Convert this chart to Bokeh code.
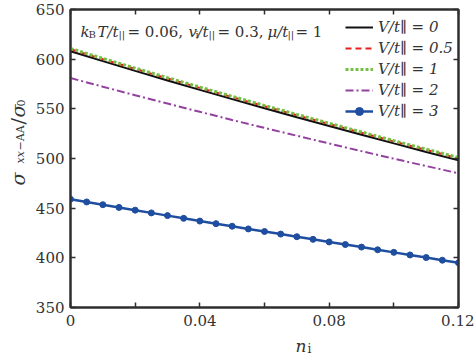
import numpy as np
from bokeh.plotting import figure
from bokeh.layouts import row, column
from bokeh.models import (Range1d, LinearAxis, FixedTicker, Label, Legend,
                          LegendItem, CustomJSTickFormatter)
from bokeh.embed import file_html
from bokeh.resources import INLINE

# ---------------- data ----------------
n_coarse = [0.00, 0.01, 0.02, 0.03, 0.04, 0.05, 0.06, 0.07, 0.08, 0.09, 0.10, 0.11, 0.12]
sigma_V0 = [608.0, 598.0, 588.2, 578.6, 569.1, 559.8, 550.6, 541.6, 532.7, 523.9, 515.2, 506.6, 498.1]
sigma_V05 = [610.0, 600.0, 590.2, 580.6, 571.1, 561.8, 552.6, 543.6, 534.7, 525.9, 517.2, 508.6, 500.1]
sigma_V1 = [610.8, 600.8, 591.0, 581.4, 571.9, 562.6, 553.4, 544.4, 535.5, 526.7, 518.0, 509.4, 500.9]
sigma_V2 = [581.0, 572.3, 563.7, 555.3, 547.0, 538.8, 530.8, 522.9, 515.1, 507.4, 499.8, 492.4, 485.1]
n_fine = [0.000, 0.005, 0.010, 0.015, 0.020, 0.025, 0.030, 0.035, 0.040, 0.045, 0.050, 0.055,
          0.060, 0.065, 0.070, 0.075, 0.080, 0.085, 0.090, 0.095, 0.100, 0.105, 0.110, 0.115, 0.120]
sigma_V3 = [459.0, 456.25, 453.5, 450.75, 448.0, 445.25, 442.5, 439.75, 437.0,
            434.4, 431.8, 429.1, 426.5, 423.9, 421.3, 418.6, 416.0,
            413.4, 410.8, 408.1, 405.5, 402.9, 400.3, 397.6, 395.0]

legend_labels = ["V/t\u2225 = 0", "V/t\u2225 = 0.5", "V/t\u2225 = 1", "V/t\u2225 = 2", "V/t\u2225 = 3"]
x_ticks = [0.0, 0.04, 0.08, 0.12]
x_minor = [0.02, 0.06, 0.10]
x_tick_labels = {0.0: "0", 0.04: "0.04", 0.08: "0.08", 0.12: "0.12"}
y_ticks = [350, 400, 450, 500, 550, 600, 650]

FONT = "DejaVu Serif"
TXT = "#333333"
AX = "#2e2e2e"

# ---------------- main plot ----------------
p = figure(frame_width=388, frame_height=298, min_border_left=40, min_border_right=16,
           min_border_top=9, min_border_bottom=27, output_backend="svg",
           toolbar_location=None, x_range=Range1d(0, 0.12), y_range=Range1d(350, 650))
p.xgrid.visible = False
p.ygrid.visible = False
p.background_fill_color = "white"
p.border_fill_color = "white"
p.outline_line_color = AX
p.outline_line_width = 2

xt = FixedTicker(ticks=x_ticks, minor_ticks=x_minor)
yt = FixedTicker(ticks=y_ticks)

def style_axis(ax):
    ax.axis_line_color = AX
    ax.axis_line_width = 2
    ax.major_tick_line_color = AX
    ax.minor_tick_line_color = AX
    ax.major_tick_line_width = 1.5
    ax.minor_tick_line_width = 1.5
    ax.major_tick_in = 5
    ax.major_tick_out = 0
    ax.minor_tick_in = 5
    ax.minor_tick_out = 0
    ax.major_label_text_font = FONT
    ax.major_label_text_font_size = "15px"
    ax.major_label_text_color = TXT

p.xaxis.ticker = xt
p.yaxis.ticker = yt
p.xaxis.major_label_overrides = x_tick_labels
style_axis(p.xaxis[0])
style_axis(p.yaxis[0])
p.xaxis.major_label_standoff = 7
p.yaxis.major_label_standoff = 6

blank = CustomJSTickFormatter(code="return ''")
top = LinearAxis(ticker=xt, formatter=blank)
right = LinearAxis(ticker=yt, formatter=blank)
for ax in (top, right):
    style_axis(ax)
    ax.major_label_standoff = 0
    ax.major_label_text_font_size = "1px"
p.add_layout(top, "above")
p.add_layout(right, "right")

# ---------------- series ----------------
r0 = p.line(n_coarse, sigma_V0, line_color="#111111", line_width=2)
r05 = p.line(n_coarse, sigma_V05, line_color="#e3201b", line_width=2, line_dash="6 4")
r1 = p.line(n_coarse, sigma_V1, line_color="#74bf44", line_width=3, line_dash="3 2")
r2 = p.line(n_coarse, sigma_V2, line_color="#9440a0", line_width=2, line_dash="8 3 2 3")
r3 = p.line(n_fine, sigma_V3, line_color="#1f4ea0", line_width=2.5)
r3m = p.scatter(n_fine, sigma_V3, marker="circle", size=6, fill_color="#1f4ea0",
                line_color="#1f4ea0")

legend = Legend(items=[LegendItem(label=legend_labels[0], renderers=[r0]),
                       LegendItem(label=legend_labels[1], renderers=[r05]),
                       LegendItem(label=legend_labels[2], renderers=[r1]),
                       LegendItem(label=legend_labels[3], renderers=[r2]),
                       LegendItem(label=legend_labels[4], renderers=[r3, r3m])],
                location=(275, 186), glyph_width=28, glyph_height=20, label_height=20,
                spacing=1, padding=0, margin=0, label_standoff=5,
                border_line_color=None, background_fill_alpha=0,
                label_text_font=FONT, label_text_font_size="15px",
                label_text_font_style="italic", label_text_color=TXT)
p.add_layout(legend)

def lab(fig, text, x, y, size, style="normal", angle=0.0, units="screen"):
    fig.add_layout(Label(x=x, y=y, x_units=units, y_units=units, text=text,
                         text_font=FONT, text_font_size=f"{size}px", text_font_style=style,
                         text_color=TXT, angle=angle, text_baseline="alphabetic",
                         text_align="left"))

# annotation inside the frame (frame-relative screen px)
B0, B1 = 276, 273
lab(p, "k", 10, B0, 15, "italic")
lab(p, "B", 18, B1, 10)
lab(p, "T/t", 27, B0, 15, "italic")
lab(p, "||", 48, B1, 10)
lab(p, "= 0.06,", 57, B0, 15)
lab(p, "v", 118, B0, 15, "italic")
lab(p, "i", 125, B1, 10)
lab(p, "/t", 127, B0, 15, "italic")
lab(p, "||", 138, B1, 10)
lab(p, "= 0.3,", 147, B0, 15)
lab(p, "\u03bc/t", 197, B0, 15, "italic")
lab(p, "||", 217, B1, 10)
lab(p, "= 1", 225, B0, 15)

# ---------------- strip holding the y-axis title ----------------
def strip(w, h):
    f = figure(frame_width=w, frame_height=h, min_border=0, output_backend="svg",
               toolbar_location=None, x_axis_type=None, y_axis_type=None,
               x_range=Range1d(0, w), y_range=Range1d(0, h))
    f.xgrid.visible = False
    f.ygrid.visible = False
    f.outline_line_color = None
    f.background_fill_color = "white"
    f.border_fill_color = "white"
    return f

ys = strip(30, 355)
A = np.pi / 2
lab(ys, "\u03c3", 17, 170, 19, "italic", A, "data")
lab(ys, "xx", 20, 192, 11, "italic", A, "data")
lab(ys, "\u2212AA", 20, 205, 11, "normal", A, "data")
lab(ys, "/", 17, 231, 19, "normal", A, "data")
lab(ys, "\u03c3", 17, 238, 19, "italic", A, "data")
lab(ys, "0", 20, 249, 11, "normal", A, "data")

# ---------------- strip holding the x-axis title ----------------
xs = strip(444, 21)
lab(xs, "n", 225, 10, 17, "italic", 0.0, "data")
lab(xs, "i", 237, 7, 12, "normal", 0.0, "data")

layout = row(ys, column(p, xs, spacing=0), spacing=0)
open("out.html", "w").write(file_html(layout, INLINE))
